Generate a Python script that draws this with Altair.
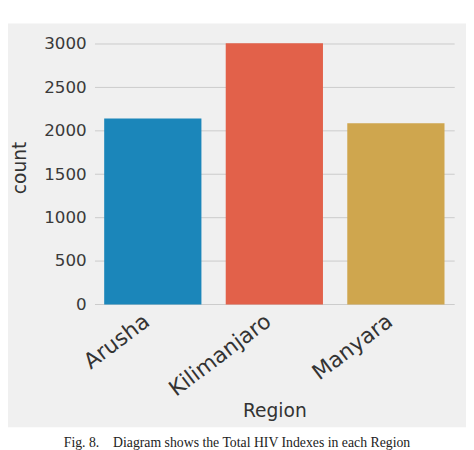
import altair as alt
import pandas as pd

regions = ["Arusha", "Kilimanjaro", "Manyara"]
counts = [2142, 3008, 2087]
bar_colors = ["#1b86ba", "#e2614a", "#cfa64e"]
y_ticks = [0, 500, 1000, 1500, 2000, 2500, 3000]
y_max = 3158
caption = "Fig. 8.\u00a0\u00a0\u00a0\u00a0Diagram shows the Total HIV Indexes in each Region"

W, H = 371, 279

bars_df = pd.DataFrame({"Region": regions, "count": counts})
grid_df = pd.DataFrame({"count": y_ticks})
one_df = pd.DataFrame({"a": [0]})

ysc = alt.Scale(domain=[0, y_max], nice=False, zero=True)
yaxis = alt.Axis(
    title="count",
    values=y_ticks,
    format="d",
    labelPadding=6,
    labelFont="DejaVu Sans",
    labelFontSize=17,
    labelColor="#3a3a3a",
    titleFont="DejaVu Sans",
    titleFontSize=19,
    titleFontWeight="normal",
    titleColor="#333333",
    titlePadding=14,
    ticks=False,
    domain=False,
    grid=False,
    zindex=1,
)

bg = alt.Chart(one_df).mark_rect(color="#f0f0f0").encode(
    x=alt.value(-91), x2=alt.value(381), y=alt.value(-7), y2=alt.value(404)
)

grid = alt.Chart(grid_df).mark_rule(color="#cbcbcb", strokeWidth=1).encode(
    y=alt.Y("count:Q", scale=ysc, axis=yaxis),
    x=alt.value(3),
    x2=alt.value(369),
)

bars = alt.Chart(bars_df).mark_bar().encode(
    x=alt.X(
        "Region:N",
        sort=regions,
        scale=alt.Scale(paddingInner=0.2, paddingOuter=0.1),
        axis=alt.Axis(
            title="Region",
            labelAngle=-37,
            labelAlign="right",
            labelBaseline="top",
            labelPadding=6,
            labelOffset=-12,
            labelFont="DejaVu Sans",
            labelFontSize=22,
            labelColor="#333333",
            titleFont="DejaVu Sans",
            titleFontSize=19,
            titleFontWeight="normal",
            titleColor="#333333",
            titlePadding=2,
            ticks=False,
            domain=False,
            grid=False,
            zindex=1,
        ),
    ),
    y=alt.Y("count:Q", scale=ysc, axis=yaxis),
    color=alt.Color(
        "Region:N",
        scale=alt.Scale(domain=regions, range=bar_colors),
        legend=None,
    ),
)

chart = (
    alt.layer(bg, grid, bars)
    .properties(
        width=W,
        height=H,
        padding={"left": 85.5, "top": 18.6, "right": 9.5, "bottom": 170},
        autosize="none",
        title=alt.TitleParams(
            caption,
            orient="bottom",
            font="Liberation Serif",
            fontSize=14,
            fontWeight="normal",
            color="#222222",
            offset=9,
            dx=-38,
            anchor="middle",
        ),
    )
    .configure_view(stroke=None)
    .configure(background="white")
)

chart.save("out.html", embed_options={"renderer": "svg", "actions": False})
